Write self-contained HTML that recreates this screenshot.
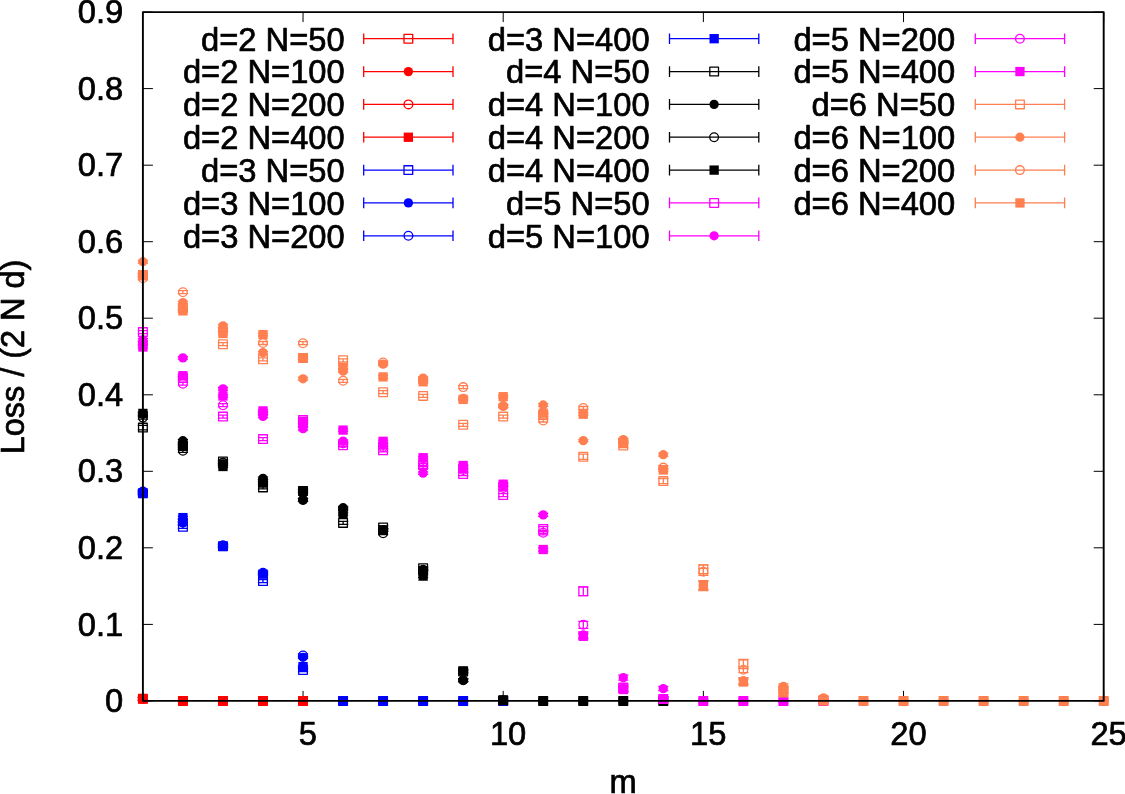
<!DOCTYPE html>
<html><head><meta charset="utf-8"><title>Loss / (2 N d) vs m</title>
<style>html,body{margin:0;padding:0;background:#fff}svg{display:block}text{stroke:#000;stroke-width:0.7px}</style></head>
<body>
<svg width="1125" height="794" viewBox="0 0 1125 794" font-family="'Liberation Sans', sans-serif" font-size="32.7px" fill="#000" stroke-linejoin="round">
<rect width="1125" height="794" fill="#fff"/>
<path d="M142.9 700.9h10M1103.692 700.9h-10M142.9 624.4h10M1103.692 624.4h-10M142.9 547.8h10M1103.692 547.8h-10M142.9 471.3h10M1103.692 471.3h-10M142.9 394.8h10M1103.692 394.8h-10M142.9 318.2h10M1103.692 318.2h-10M142.9 241.7h10M1103.692 241.7h-10M142.9 165.2h10M1103.692 165.2h-10M142.9 88.6h10M1103.692 88.6h-10M142.9 12.1h10M1103.692 12.1h-10M303.03200000000004 700.9v-10M303.03200000000004 12.1v10M503.197 700.9v-10M503.197 12.1v10M703.362 700.9v-10M703.362 12.1v10M903.527 700.9v-10M903.527 12.1v10M1103.692 700.9v-10M1103.692 12.1v10" stroke="#000" stroke-width="1" fill="none"/>
<text x="123.2" y="712.0" text-anchor="end">0</text>
<text x="123.2" y="635.5" text-anchor="end">0.1</text>
<text x="123.2" y="558.9" text-anchor="end">0.2</text>
<text x="123.2" y="482.4" text-anchor="end">0.3</text>
<text x="123.2" y="405.9" text-anchor="end">0.4</text>
<text x="123.2" y="329.3" text-anchor="end">0.5</text>
<text x="123.2" y="252.8" text-anchor="end">0.6</text>
<text x="123.2" y="176.3" text-anchor="end">0.7</text>
<text x="123.2" y="99.7" text-anchor="end">0.8</text>
<text x="123.2" y="23.2" text-anchor="end">0.9</text>
<text x="307.9" y="745.2" text-anchor="middle">5</text>
<text x="508.1" y="745.2" text-anchor="middle">10</text>
<text x="708.3" y="745.2" text-anchor="middle">15</text>
<text x="908.4" y="745.2" text-anchor="middle">20</text>
<text x="1108.6" y="745.2" text-anchor="middle">25</text>
<text transform="translate(23.6,357) rotate(-90)" text-anchor="middle" font-size="32.45px">Loss / (2 N d)</text>
<text x="623" y="793" text-anchor="middle">m</text>
<text x="344.7" y="50.5" text-anchor="end">d=2 N=50</text>
<path d="M363.7 38.7H453.0M363.7 33.4v10.6M453.0 33.4v10.6" stroke="#ff0000" stroke-width="1.3" fill="none"/>
<rect x="404.00" y="34.35" width="8.70" height="8.70" fill="none" stroke="#ff0000" stroke-width="1.3"/>
<text x="344.7" y="83.4" text-anchor="end">d=2 N=100</text>
<path d="M363.7 71.6H453.0M363.7 66.3v10.6M453.0 66.3v10.6" stroke="#ff0000" stroke-width="1.3" fill="none"/>
<circle cx="408.4" cy="71.6" r="4.65" fill="#ff0000"/>
<text x="344.7" y="116.2" text-anchor="end">d=2 N=200</text>
<path d="M363.7 104.4H453.0M363.7 99.1v10.6M453.0 99.1v10.6" stroke="#ff0000" stroke-width="1.3" fill="none"/>
<circle cx="408.4" cy="104.4" r="4.35" fill="none" stroke="#ff0000" stroke-width="1.3"/>
<text x="344.7" y="149.1" text-anchor="end">d=2 N=400</text>
<path d="M363.7 137.2H453.0M363.7 131.9v10.6M453.0 131.9v10.6" stroke="#ff0000" stroke-width="1.3" fill="none"/>
<rect x="403.70" y="132.60" width="9.30" height="9.30" fill="#ff0000"/>
<text x="344.7" y="181.9" text-anchor="end">d=3 N=50</text>
<path d="M363.7 170.1H453.0M363.7 164.8v10.6M453.0 164.8v10.6" stroke="#0000ff" stroke-width="1.3" fill="none"/>
<rect x="404.00" y="165.75" width="8.70" height="8.70" fill="none" stroke="#0000ff" stroke-width="1.3"/>
<text x="344.7" y="214.8" text-anchor="end">d=3 N=100</text>
<path d="M363.7 202.9H453.0M363.7 197.6v10.6M453.0 197.6v10.6" stroke="#0000ff" stroke-width="1.3" fill="none"/>
<circle cx="408.4" cy="202.9" r="4.65" fill="#0000ff"/>
<text x="344.7" y="247.6" text-anchor="end">d=3 N=200</text>
<path d="M363.7 235.8H453.0M363.7 230.5v10.6M453.0 230.5v10.6" stroke="#0000ff" stroke-width="1.3" fill="none"/>
<circle cx="408.4" cy="235.8" r="4.35" fill="none" stroke="#0000ff" stroke-width="1.3"/>
<text x="649.6" y="50.5" text-anchor="end">d=3 N=400</text>
<path d="M669.5 38.7H758.8M669.5 33.4v10.6M758.8 33.4v10.6" stroke="#0000ff" stroke-width="1.3" fill="none"/>
<rect x="709.50" y="34.05" width="9.30" height="9.30" fill="#0000ff"/>
<text x="649.6" y="83.4" text-anchor="end">d=4 N=50</text>
<path d="M669.5 71.6H758.8M669.5 66.3v10.6M758.8 66.3v10.6" stroke="#000000" stroke-width="1.3" fill="none"/>
<rect x="709.80" y="67.20" width="8.70" height="8.70" fill="none" stroke="#000000" stroke-width="1.3"/>
<text x="649.6" y="116.2" text-anchor="end">d=4 N=100</text>
<path d="M669.5 104.4H758.8M669.5 99.1v10.6M758.8 99.1v10.6" stroke="#000000" stroke-width="1.3" fill="none"/>
<circle cx="714.1" cy="104.4" r="4.65" fill="#000000"/>
<text x="649.6" y="149.1" text-anchor="end">d=4 N=200</text>
<path d="M669.5 137.2H758.8M669.5 131.9v10.6M758.8 131.9v10.6" stroke="#000000" stroke-width="1.3" fill="none"/>
<circle cx="714.1" cy="137.2" r="4.35" fill="none" stroke="#000000" stroke-width="1.3"/>
<text x="649.6" y="181.9" text-anchor="end">d=4 N=400</text>
<path d="M669.5 170.1H758.8M669.5 164.8v10.6M758.8 164.8v10.6" stroke="#000000" stroke-width="1.3" fill="none"/>
<rect x="709.50" y="165.45" width="9.30" height="9.30" fill="#000000"/>
<text x="649.6" y="214.8" text-anchor="end">d=5 N=50</text>
<path d="M669.5 202.9H758.8M669.5 197.6v10.6M758.8 197.6v10.6" stroke="#ff00ff" stroke-width="1.3" fill="none"/>
<rect x="709.80" y="198.60" width="8.70" height="8.70" fill="none" stroke="#ff00ff" stroke-width="1.3"/>
<text x="649.6" y="247.6" text-anchor="end">d=5 N=100</text>
<path d="M669.5 235.8H758.8M669.5 230.5v10.6M758.8 230.5v10.6" stroke="#ff00ff" stroke-width="1.3" fill="none"/>
<circle cx="714.1" cy="235.8" r="4.65" fill="#ff00ff"/>
<text x="955.2" y="50.5" text-anchor="end">d=5 N=200</text>
<path d="M975.3 38.7H1064.6M975.3 33.4v10.6M1064.6 33.4v10.6" stroke="#ff00ff" stroke-width="1.3" fill="none"/>
<circle cx="1019.9" cy="38.7" r="4.35" fill="none" stroke="#ff00ff" stroke-width="1.3"/>
<text x="955.2" y="83.4" text-anchor="end">d=5 N=400</text>
<path d="M975.3 71.6H1064.6M975.3 66.3v10.6M1064.6 66.3v10.6" stroke="#ff00ff" stroke-width="1.3" fill="none"/>
<rect x="1015.30" y="66.90" width="9.30" height="9.30" fill="#ff00ff"/>
<text x="955.2" y="116.2" text-anchor="end">d=6 N=50</text>
<path d="M975.3 104.4H1064.6M975.3 99.1v10.6M1064.6 99.1v10.6" stroke="#ff7f50" stroke-width="1.3" fill="none"/>
<rect x="1015.60" y="100.05" width="8.70" height="8.70" fill="none" stroke="#ff7f50" stroke-width="1.3"/>
<text x="955.2" y="149.1" text-anchor="end">d=6 N=100</text>
<path d="M975.3 137.2H1064.6M975.3 131.9v10.6M1064.6 131.9v10.6" stroke="#ff7f50" stroke-width="1.3" fill="none"/>
<circle cx="1019.9" cy="137.2" r="4.65" fill="#ff7f50"/>
<text x="955.2" y="181.9" text-anchor="end">d=6 N=200</text>
<path d="M975.3 170.1H1064.6M975.3 164.8v10.6M1064.6 164.8v10.6" stroke="#ff7f50" stroke-width="1.3" fill="none"/>
<circle cx="1019.9" cy="170.1" r="4.35" fill="none" stroke="#ff7f50" stroke-width="1.3"/>
<text x="955.2" y="214.8" text-anchor="end">d=6 N=400</text>
<path d="M975.3 202.9H1064.6M975.3 197.6v10.6M1064.6 197.6v10.6" stroke="#ff7f50" stroke-width="1.3" fill="none"/>
<rect x="1015.30" y="198.30" width="9.30" height="9.30" fill="#ff7f50"/>
<path d="M137.8 697.3H148.0M137.8 700.3H148.0M142.9 697.3V700.3" stroke="#ff0000" stroke-width="1.3" fill="none"/>
<rect x="138.55" y="694.45" width="8.70" height="8.70" fill="none" stroke="#ff0000" stroke-width="1.3"/>

<rect x="178.58" y="696.55" width="8.70" height="8.70" fill="none" stroke="#ff0000" stroke-width="1.3"/>

<rect x="218.62" y="696.55" width="8.70" height="8.70" fill="none" stroke="#ff0000" stroke-width="1.3"/>

<rect x="258.65" y="696.55" width="8.70" height="8.70" fill="none" stroke="#ff0000" stroke-width="1.3"/>

<rect x="298.68" y="696.55" width="8.70" height="8.70" fill="none" stroke="#ff0000" stroke-width="1.3"/>
<path d="M137.8 697.5H148.0M137.8 700.1H148.0M142.9 697.5V700.1" stroke="#ff0000" stroke-width="1.3" fill="none"/>
<circle cx="142.9" cy="698.8" r="4.65" fill="#ff0000"/>

<circle cx="182.9" cy="700.9" r="4.65" fill="#ff0000"/>

<circle cx="223.0" cy="700.9" r="4.65" fill="#ff0000"/>

<circle cx="263.0" cy="700.9" r="4.65" fill="#ff0000"/>

<circle cx="303.0" cy="700.9" r="4.65" fill="#ff0000"/>
<path d="M137.8 697.3H148.0M137.8 700.3H148.0M142.9 697.3V700.3" stroke="#ff0000" stroke-width="1.3" fill="none"/>
<circle cx="142.9" cy="698.8" r="4.35" fill="none" stroke="#ff0000" stroke-width="1.3"/>

<circle cx="182.9" cy="700.9" r="4.35" fill="none" stroke="#ff0000" stroke-width="1.3"/>

<circle cx="223.0" cy="700.9" r="4.35" fill="none" stroke="#ff0000" stroke-width="1.3"/>

<circle cx="263.0" cy="700.9" r="4.35" fill="none" stroke="#ff0000" stroke-width="1.3"/>

<circle cx="303.0" cy="700.9" r="4.35" fill="none" stroke="#ff0000" stroke-width="1.3"/>
<path d="M137.8 697.6H148.0M137.8 700.0H148.0M142.9 697.6V700.0" stroke="#ff0000" stroke-width="1.3" fill="none"/>
<rect x="138.25" y="694.15" width="9.30" height="9.30" fill="#ff0000"/>

<rect x="178.28" y="696.25" width="9.30" height="9.30" fill="#ff0000"/>

<rect x="218.32" y="696.25" width="9.30" height="9.30" fill="#ff0000"/>

<rect x="258.35" y="696.25" width="9.30" height="9.30" fill="#ff0000"/>

<rect x="298.38" y="696.25" width="9.30" height="9.30" fill="#ff0000"/>
<path d="M137.8 491.7H148.0M137.8 494.7H148.0M142.9 491.7V494.7" stroke="#0000ff" stroke-width="1.3" fill="none"/>
<rect x="138.55" y="488.85" width="8.70" height="8.70" fill="none" stroke="#0000ff" stroke-width="1.3"/>
<path d="M177.8 525.3H188.0M177.8 528.3H188.0M182.9 525.3V528.3" stroke="#0000ff" stroke-width="1.3" fill="none"/>
<rect x="178.58" y="522.45" width="8.70" height="8.70" fill="none" stroke="#0000ff" stroke-width="1.3"/>
<path d="M217.9 544.7H228.1M217.9 547.7H228.1M223.0 544.7V547.7" stroke="#0000ff" stroke-width="1.3" fill="none"/>
<rect x="218.62" y="541.85" width="8.70" height="8.70" fill="none" stroke="#0000ff" stroke-width="1.3"/>
<path d="M257.9 579.6H268.1M257.9 582.6H268.1M263.0 579.6V582.6" stroke="#0000ff" stroke-width="1.3" fill="none"/>
<rect x="258.65" y="576.75" width="8.70" height="8.70" fill="none" stroke="#0000ff" stroke-width="1.3"/>
<path d="M297.9 668.5H308.1M297.9 671.5H308.1M303.0 668.5V671.5" stroke="#0000ff" stroke-width="1.3" fill="none"/>
<rect x="298.68" y="665.65" width="8.70" height="8.70" fill="none" stroke="#0000ff" stroke-width="1.3"/>

<rect x="338.72" y="696.55" width="8.70" height="8.70" fill="none" stroke="#0000ff" stroke-width="1.3"/>

<rect x="378.75" y="696.55" width="8.70" height="8.70" fill="none" stroke="#0000ff" stroke-width="1.3"/>

<rect x="418.78" y="696.55" width="8.70" height="8.70" fill="none" stroke="#0000ff" stroke-width="1.3"/>

<rect x="458.81" y="696.55" width="8.70" height="8.70" fill="none" stroke="#0000ff" stroke-width="1.3"/>

<rect x="498.85" y="696.55" width="8.70" height="8.70" fill="none" stroke="#0000ff" stroke-width="1.3"/>
<path d="M137.8 490.3H148.0M137.8 492.9H148.0M142.9 490.3V492.9" stroke="#0000ff" stroke-width="1.3" fill="none"/>
<circle cx="142.9" cy="491.6" r="4.65" fill="#0000ff"/>
<path d="M177.8 521.7H188.0M177.8 524.3H188.0M182.9 521.7V524.3" stroke="#0000ff" stroke-width="1.3" fill="none"/>
<circle cx="182.9" cy="523.0" r="4.65" fill="#0000ff"/>
<path d="M217.9 543.9H228.1M217.9 546.5H228.1M223.0 543.9V546.5" stroke="#0000ff" stroke-width="1.3" fill="none"/>
<circle cx="223.0" cy="545.2" r="4.65" fill="#0000ff"/>
<path d="M257.9 572.2H268.1M257.9 574.8H268.1M263.0 572.2V574.8" stroke="#0000ff" stroke-width="1.3" fill="none"/>
<circle cx="263.0" cy="573.5" r="4.65" fill="#0000ff"/>
<path d="M297.9 656.0H308.1M297.9 658.6H308.1M303.0 656.0V658.6" stroke="#0000ff" stroke-width="1.3" fill="none"/>
<circle cx="303.0" cy="657.3" r="4.65" fill="#0000ff"/>

<circle cx="343.1" cy="700.9" r="4.65" fill="#0000ff"/>

<circle cx="383.1" cy="700.9" r="4.65" fill="#0000ff"/>

<circle cx="423.1" cy="700.9" r="4.65" fill="#0000ff"/>

<circle cx="463.2" cy="700.9" r="4.65" fill="#0000ff"/>

<circle cx="503.2" cy="700.9" r="4.65" fill="#0000ff"/>
<path d="M137.8 490.1H148.0M137.8 493.1H148.0M142.9 490.1V493.1" stroke="#0000ff" stroke-width="1.3" fill="none"/>
<circle cx="142.9" cy="491.6" r="4.35" fill="none" stroke="#0000ff" stroke-width="1.3"/>
<path d="M177.8 519.0H188.0M177.8 522.0H188.0M182.9 519.0V522.0" stroke="#0000ff" stroke-width="1.3" fill="none"/>
<circle cx="182.9" cy="520.5" r="4.35" fill="none" stroke="#0000ff" stroke-width="1.3"/>
<path d="M217.9 543.9H228.1M217.9 546.9H228.1M223.0 543.9V546.9" stroke="#0000ff" stroke-width="1.3" fill="none"/>
<circle cx="223.0" cy="545.4" r="4.35" fill="none" stroke="#0000ff" stroke-width="1.3"/>
<path d="M257.9 571.2H268.1M257.9 574.2H268.1M263.0 571.2V574.2" stroke="#0000ff" stroke-width="1.3" fill="none"/>
<circle cx="263.0" cy="572.7" r="4.35" fill="none" stroke="#0000ff" stroke-width="1.3"/>
<path d="M297.9 654.0H308.1M297.9 657.0H308.1M303.0 654.0V657.0" stroke="#0000ff" stroke-width="1.3" fill="none"/>
<circle cx="303.0" cy="655.5" r="4.35" fill="none" stroke="#0000ff" stroke-width="1.3"/>

<circle cx="343.1" cy="700.9" r="4.35" fill="none" stroke="#0000ff" stroke-width="1.3"/>

<circle cx="383.1" cy="700.9" r="4.35" fill="none" stroke="#0000ff" stroke-width="1.3"/>

<circle cx="423.1" cy="700.9" r="4.35" fill="none" stroke="#0000ff" stroke-width="1.3"/>

<circle cx="463.2" cy="700.9" r="4.35" fill="none" stroke="#0000ff" stroke-width="1.3"/>

<circle cx="503.2" cy="700.9" r="4.35" fill="none" stroke="#0000ff" stroke-width="1.3"/>
<path d="M137.8 492.2H148.0M137.8 494.6H148.0M142.9 492.2V494.6" stroke="#0000ff" stroke-width="1.3" fill="none"/>
<rect x="138.25" y="488.75" width="9.30" height="9.30" fill="#0000ff"/>
<path d="M177.8 516.4H188.0M177.8 518.8H188.0M182.9 516.4V518.8" stroke="#0000ff" stroke-width="1.3" fill="none"/>
<rect x="178.28" y="512.95" width="9.30" height="9.30" fill="#0000ff"/>
<path d="M217.9 545.2H228.1M217.9 547.6H228.1M223.0 545.2V547.6" stroke="#0000ff" stroke-width="1.3" fill="none"/>
<rect x="218.32" y="541.75" width="9.30" height="9.30" fill="#0000ff"/>
<path d="M257.9 573.0H268.1M257.9 575.4H268.1M263.0 573.0V575.4" stroke="#0000ff" stroke-width="1.3" fill="none"/>
<rect x="258.35" y="569.55" width="9.30" height="9.30" fill="#0000ff"/>
<path d="M297.9 665.4H308.1M297.9 667.8H308.1M303.0 665.4V667.8" stroke="#0000ff" stroke-width="1.3" fill="none"/>
<rect x="298.38" y="661.95" width="9.30" height="9.30" fill="#0000ff"/>

<rect x="338.42" y="696.25" width="9.30" height="9.30" fill="#0000ff"/>

<rect x="378.45" y="696.25" width="9.30" height="9.30" fill="#0000ff"/>

<rect x="418.48" y="696.25" width="9.30" height="9.30" fill="#0000ff"/>

<rect x="458.51" y="696.25" width="9.30" height="9.30" fill="#0000ff"/>

<rect x="498.55" y="696.25" width="9.30" height="9.30" fill="#0000ff"/>
<path d="M137.8 425.3H148.0M137.8 429.9H148.0M142.9 425.3V429.9" stroke="#000000" stroke-width="1.3" fill="none"/>
<rect x="138.55" y="423.25" width="8.70" height="8.70" fill="none" stroke="#000000" stroke-width="1.3"/>
<path d="M177.8 444.5H188.0M177.8 447.5H188.0M182.9 444.5V447.5" stroke="#000000" stroke-width="1.3" fill="none"/>
<rect x="178.58" y="441.65" width="8.70" height="8.70" fill="none" stroke="#000000" stroke-width="1.3"/>
<path d="M217.9 460.0H228.1M217.9 463.0H228.1M223.0 460.0V463.0" stroke="#000000" stroke-width="1.3" fill="none"/>
<rect x="218.62" y="457.15" width="8.70" height="8.70" fill="none" stroke="#000000" stroke-width="1.3"/>
<path d="M257.9 485.9H268.1M257.9 488.9H268.1M263.0 485.9V488.9" stroke="#000000" stroke-width="1.3" fill="none"/>
<rect x="258.65" y="483.05" width="8.70" height="8.70" fill="none" stroke="#000000" stroke-width="1.3"/>
<path d="M297.9 489.5H308.1M297.9 492.5H308.1M303.0 489.5V492.5" stroke="#000000" stroke-width="1.3" fill="none"/>
<rect x="298.68" y="486.65" width="8.70" height="8.70" fill="none" stroke="#000000" stroke-width="1.3"/>
<path d="M338.0 521.4H348.2M338.0 524.4H348.2M343.1 521.4V524.4" stroke="#000000" stroke-width="1.3" fill="none"/>
<rect x="338.72" y="518.55" width="8.70" height="8.70" fill="none" stroke="#000000" stroke-width="1.3"/>
<path d="M378.0 526.0H388.2M378.0 529.0H388.2M383.1 526.0V529.0" stroke="#000000" stroke-width="1.3" fill="none"/>
<rect x="378.75" y="523.15" width="8.70" height="8.70" fill="none" stroke="#000000" stroke-width="1.3"/>
<path d="M418.0 566.7H428.2M418.0 569.7H428.2M423.1 566.7V569.7" stroke="#000000" stroke-width="1.3" fill="none"/>
<rect x="418.78" y="563.85" width="8.70" height="8.70" fill="none" stroke="#000000" stroke-width="1.3"/>
<path d="M458.1 670.0H468.3M458.1 673.0H468.3M463.2 670.0V673.0" stroke="#000000" stroke-width="1.3" fill="none"/>
<rect x="458.81" y="667.15" width="8.70" height="8.70" fill="none" stroke="#000000" stroke-width="1.3"/>

<rect x="498.85" y="695.95" width="8.70" height="8.70" fill="none" stroke="#000000" stroke-width="1.3"/>

<rect x="538.88" y="696.55" width="8.70" height="8.70" fill="none" stroke="#000000" stroke-width="1.3"/>

<rect x="578.91" y="696.55" width="8.70" height="8.70" fill="none" stroke="#000000" stroke-width="1.3"/>

<rect x="618.95" y="696.55" width="8.70" height="8.70" fill="none" stroke="#000000" stroke-width="1.3"/>

<rect x="658.98" y="696.55" width="8.70" height="8.70" fill="none" stroke="#000000" stroke-width="1.3"/>
<path d="M137.8 412.8H148.0M137.8 415.8H148.0M142.9 412.8V415.8" stroke="#000000" stroke-width="1.3" fill="none"/>
<circle cx="142.9" cy="414.3" r="4.65" fill="#000000"/>
<path d="M177.8 439.4H188.0M177.8 442.0H188.0M182.9 439.4V442.0" stroke="#000000" stroke-width="1.3" fill="none"/>
<circle cx="182.9" cy="440.7" r="4.65" fill="#000000"/>
<path d="M217.9 463.2H228.1M217.9 465.8H228.1M223.0 463.2V465.8" stroke="#000000" stroke-width="1.3" fill="none"/>
<circle cx="223.0" cy="464.5" r="4.65" fill="#000000"/>
<path d="M257.9 477.1H268.1M257.9 479.7H268.1M263.0 477.1V479.7" stroke="#000000" stroke-width="1.3" fill="none"/>
<circle cx="263.0" cy="478.4" r="4.65" fill="#000000"/>
<path d="M297.9 498.6H308.1M297.9 501.2H308.1M303.0 498.6V501.2" stroke="#000000" stroke-width="1.3" fill="none"/>
<circle cx="303.0" cy="499.9" r="4.65" fill="#000000"/>
<path d="M338.0 506.4H348.2M338.0 509.0H348.2M343.1 506.4V509.0" stroke="#000000" stroke-width="1.3" fill="none"/>
<circle cx="343.1" cy="507.7" r="4.65" fill="#000000"/>
<path d="M378.0 528.7H388.2M378.0 531.3H388.2M383.1 528.7V531.3" stroke="#000000" stroke-width="1.3" fill="none"/>
<circle cx="383.1" cy="530.0" r="4.65" fill="#000000"/>
<path d="M418.0 568.0H428.2M418.0 570.6H428.2M423.1 568.0V570.6" stroke="#000000" stroke-width="1.3" fill="none"/>
<circle cx="423.1" cy="569.3" r="4.65" fill="#000000"/>
<path d="M458.1 679.0H468.3M458.1 681.6H468.3M463.2 679.0V681.6" stroke="#000000" stroke-width="1.3" fill="none"/>
<circle cx="463.2" cy="680.3" r="4.65" fill="#000000"/>

<circle cx="503.2" cy="700.3" r="4.65" fill="#000000"/>

<circle cx="543.2" cy="700.9" r="4.65" fill="#000000"/>

<circle cx="583.3" cy="700.9" r="4.65" fill="#000000"/>

<circle cx="623.3" cy="700.9" r="4.65" fill="#000000"/>

<circle cx="663.3" cy="700.9" r="4.65" fill="#000000"/>
<path d="M137.8 416.1H148.0M137.8 419.1H148.0M142.9 416.1V419.1" stroke="#000000" stroke-width="1.3" fill="none"/>
<circle cx="142.9" cy="417.6" r="4.35" fill="none" stroke="#000000" stroke-width="1.3"/>
<path d="M177.8 449.3H188.0M177.8 452.3H188.0M182.9 449.3V452.3" stroke="#000000" stroke-width="1.3" fill="none"/>
<circle cx="182.9" cy="450.8" r="4.35" fill="none" stroke="#000000" stroke-width="1.3"/>
<path d="M217.9 461.1H228.1M217.9 464.1H228.1M223.0 461.1V464.1" stroke="#000000" stroke-width="1.3" fill="none"/>
<circle cx="223.0" cy="462.6" r="4.35" fill="none" stroke="#000000" stroke-width="1.3"/>
<path d="M257.9 479.5H268.1M257.9 482.5H268.1M263.0 479.5V482.5" stroke="#000000" stroke-width="1.3" fill="none"/>
<circle cx="263.0" cy="481.0" r="4.35" fill="none" stroke="#000000" stroke-width="1.3"/>
<path d="M297.9 498.4H308.1M297.9 501.4H308.1M303.0 498.4V501.4" stroke="#000000" stroke-width="1.3" fill="none"/>
<circle cx="303.0" cy="499.9" r="4.35" fill="none" stroke="#000000" stroke-width="1.3"/>
<path d="M338.0 507.5H348.2M338.0 510.5H348.2M343.1 507.5V510.5" stroke="#000000" stroke-width="1.3" fill="none"/>
<circle cx="343.1" cy="509.0" r="4.35" fill="none" stroke="#000000" stroke-width="1.3"/>
<path d="M378.0 531.7H388.2M378.0 534.7H388.2M383.1 531.7V534.7" stroke="#000000" stroke-width="1.3" fill="none"/>
<circle cx="383.1" cy="533.2" r="4.35" fill="none" stroke="#000000" stroke-width="1.3"/>
<path d="M418.0 570.5H428.2M418.0 573.5H428.2M423.1 570.5V573.5" stroke="#000000" stroke-width="1.3" fill="none"/>
<circle cx="423.1" cy="572.0" r="4.35" fill="none" stroke="#000000" stroke-width="1.3"/>
<path d="M458.1 678.7H468.3M458.1 681.7H468.3M463.2 678.7V681.7" stroke="#000000" stroke-width="1.3" fill="none"/>
<circle cx="463.2" cy="680.2" r="4.35" fill="none" stroke="#000000" stroke-width="1.3"/>

<circle cx="503.2" cy="700.3" r="4.35" fill="none" stroke="#000000" stroke-width="1.3"/>

<circle cx="543.2" cy="700.9" r="4.35" fill="none" stroke="#000000" stroke-width="1.3"/>

<circle cx="583.3" cy="700.9" r="4.35" fill="none" stroke="#000000" stroke-width="1.3"/>

<circle cx="623.3" cy="700.9" r="4.35" fill="none" stroke="#000000" stroke-width="1.3"/>

<circle cx="663.3" cy="700.9" r="4.35" fill="none" stroke="#000000" stroke-width="1.3"/>
<path d="M137.8 412.2H148.0M137.8 414.6H148.0M142.9 412.2V414.6" stroke="#000000" stroke-width="1.3" fill="none"/>
<rect x="138.25" y="408.75" width="9.30" height="9.30" fill="#000000"/>
<path d="M177.8 443.8H188.0M177.8 446.2H188.0M182.9 443.8V446.2" stroke="#000000" stroke-width="1.3" fill="none"/>
<rect x="178.28" y="440.35" width="9.30" height="9.30" fill="#000000"/>
<path d="M217.9 465.3H228.1M217.9 467.7H228.1M223.0 465.3V467.7" stroke="#000000" stroke-width="1.3" fill="none"/>
<rect x="218.32" y="461.85" width="9.30" height="9.30" fill="#000000"/>
<path d="M257.9 481.9H268.1M257.9 484.3H268.1M263.0 481.9V484.3" stroke="#000000" stroke-width="1.3" fill="none"/>
<rect x="258.35" y="478.45" width="9.30" height="9.30" fill="#000000"/>
<path d="M297.9 489.7H308.1M297.9 492.1H308.1M303.0 489.7V492.1" stroke="#000000" stroke-width="1.3" fill="none"/>
<rect x="298.38" y="486.25" width="9.30" height="9.30" fill="#000000"/>
<path d="M338.0 512.8H348.2M338.0 515.2H348.2M343.1 512.8V515.2" stroke="#000000" stroke-width="1.3" fill="none"/>
<rect x="338.42" y="509.35" width="9.30" height="9.30" fill="#000000"/>
<path d="M378.0 528.8H388.2M378.0 531.2H388.2M383.1 528.8V531.2" stroke="#000000" stroke-width="1.3" fill="none"/>
<rect x="378.45" y="525.35" width="9.30" height="9.30" fill="#000000"/>
<path d="M418.0 574.9H428.2M418.0 577.3H428.2M423.1 574.9V577.3" stroke="#000000" stroke-width="1.3" fill="none"/>
<rect x="418.48" y="571.45" width="9.30" height="9.30" fill="#000000"/>
<path d="M458.1 669.8H468.3M458.1 672.2H468.3M463.2 669.8V672.2" stroke="#000000" stroke-width="1.3" fill="none"/>
<rect x="458.51" y="666.35" width="9.30" height="9.30" fill="#000000"/>

<rect x="498.55" y="695.65" width="9.30" height="9.30" fill="#000000"/>

<rect x="538.58" y="696.25" width="9.30" height="9.30" fill="#000000"/>

<rect x="578.61" y="696.25" width="9.30" height="9.30" fill="#000000"/>

<rect x="618.65" y="696.25" width="9.30" height="9.30" fill="#000000"/>

<rect x="658.68" y="696.25" width="9.30" height="9.30" fill="#000000"/>
<path d="M137.8 330.6H148.0M137.8 333.6H148.0M142.9 330.6V333.6" stroke="#ff00ff" stroke-width="1.3" fill="none"/>
<rect x="138.55" y="327.75" width="8.70" height="8.70" fill="none" stroke="#ff00ff" stroke-width="1.3"/>
<path d="M177.8 376.5H188.0M177.8 379.5H188.0M182.9 376.5V379.5" stroke="#ff00ff" stroke-width="1.3" fill="none"/>
<rect x="178.58" y="373.65" width="8.70" height="8.70" fill="none" stroke="#ff00ff" stroke-width="1.3"/>
<path d="M217.9 415.1H228.1M217.9 418.1H228.1M223.0 415.1V418.1" stroke="#ff00ff" stroke-width="1.3" fill="none"/>
<rect x="218.62" y="412.25" width="8.70" height="8.70" fill="none" stroke="#ff00ff" stroke-width="1.3"/>
<path d="M257.9 437.6H268.1M257.9 440.6H268.1M263.0 437.6V440.6" stroke="#ff00ff" stroke-width="1.3" fill="none"/>
<rect x="258.65" y="434.75" width="8.70" height="8.70" fill="none" stroke="#ff00ff" stroke-width="1.3"/>
<path d="M297.9 418.6H308.1M297.9 421.6H308.1M303.0 418.6V421.6" stroke="#ff00ff" stroke-width="1.3" fill="none"/>
<rect x="298.68" y="415.75" width="8.70" height="8.70" fill="none" stroke="#ff00ff" stroke-width="1.3"/>
<path d="M338.0 443.7H348.2M338.0 446.7H348.2M343.1 443.7V446.7" stroke="#ff00ff" stroke-width="1.3" fill="none"/>
<rect x="338.72" y="440.85" width="8.70" height="8.70" fill="none" stroke="#ff00ff" stroke-width="1.3"/>
<path d="M378.0 448.8H388.2M378.0 451.8H388.2M383.1 448.8V451.8" stroke="#ff00ff" stroke-width="1.3" fill="none"/>
<rect x="378.75" y="445.95" width="8.70" height="8.70" fill="none" stroke="#ff00ff" stroke-width="1.3"/>
<path d="M418.0 463.5H428.2M418.0 466.5H428.2M423.1 463.5V466.5" stroke="#ff00ff" stroke-width="1.3" fill="none"/>
<rect x="418.78" y="460.65" width="8.70" height="8.70" fill="none" stroke="#ff00ff" stroke-width="1.3"/>
<path d="M458.1 472.6H468.3M458.1 475.6H468.3M463.2 472.6V475.6" stroke="#ff00ff" stroke-width="1.3" fill="none"/>
<rect x="458.81" y="469.75" width="8.70" height="8.70" fill="none" stroke="#ff00ff" stroke-width="1.3"/>
<path d="M498.1 493.6H508.3M498.1 496.6H508.3M503.2 493.6V496.6" stroke="#ff00ff" stroke-width="1.3" fill="none"/>
<rect x="498.85" y="490.75" width="8.70" height="8.70" fill="none" stroke="#ff00ff" stroke-width="1.3"/>
<path d="M538.1 526.5H548.3M538.1 531.5H548.3M543.2 526.5V531.5" stroke="#ff00ff" stroke-width="1.3" fill="none"/>
<rect x="538.88" y="524.65" width="8.70" height="8.70" fill="none" stroke="#ff00ff" stroke-width="1.3"/>
<path d="M578.2 586.8H588.4M578.2 595.6H588.4M583.3 586.8V595.6" stroke="#ff00ff" stroke-width="1.3" fill="none"/>
<rect x="578.91" y="586.85" width="8.70" height="8.70" fill="none" stroke="#ff00ff" stroke-width="1.3"/>
<path d="M618.2 684.1H628.4M618.2 691.1H628.4M623.3 684.1V691.1" stroke="#ff00ff" stroke-width="1.3" fill="none"/>
<rect x="618.95" y="683.25" width="8.70" height="8.70" fill="none" stroke="#ff00ff" stroke-width="1.3"/>
<path d="M658.2 697.0H668.4M658.2 701.0H668.4M663.3 697.0V701.0" stroke="#ff00ff" stroke-width="1.3" fill="none"/>
<rect x="658.98" y="694.65" width="8.70" height="8.70" fill="none" stroke="#ff00ff" stroke-width="1.3"/>

<rect x="699.01" y="696.55" width="8.70" height="8.70" fill="none" stroke="#ff00ff" stroke-width="1.3"/>

<rect x="739.04" y="696.55" width="8.70" height="8.70" fill="none" stroke="#ff00ff" stroke-width="1.3"/>

<rect x="779.08" y="696.55" width="8.70" height="8.70" fill="none" stroke="#ff00ff" stroke-width="1.3"/>

<rect x="819.11" y="696.55" width="8.70" height="8.70" fill="none" stroke="#ff00ff" stroke-width="1.3"/>
<path d="M137.8 338.6H148.0M137.8 341.2H148.0M142.9 338.6V341.2" stroke="#ff00ff" stroke-width="1.3" fill="none"/>
<circle cx="142.9" cy="339.9" r="4.65" fill="#ff00ff"/>
<path d="M177.8 356.6H188.0M177.8 359.2H188.0M182.9 356.6V359.2" stroke="#ff00ff" stroke-width="1.3" fill="none"/>
<circle cx="182.9" cy="357.9" r="4.65" fill="#ff00ff"/>
<path d="M217.9 387.5H228.1M217.9 390.1H228.1M223.0 387.5V390.1" stroke="#ff00ff" stroke-width="1.3" fill="none"/>
<circle cx="223.0" cy="388.8" r="4.65" fill="#ff00ff"/>
<path d="M257.9 415.1H268.1M257.9 417.7H268.1M263.0 415.1V417.7" stroke="#ff00ff" stroke-width="1.3" fill="none"/>
<circle cx="263.0" cy="416.4" r="4.65" fill="#ff00ff"/>
<path d="M297.9 427.4H308.1M297.9 430.0H308.1M303.0 427.4V430.0" stroke="#ff00ff" stroke-width="1.3" fill="none"/>
<circle cx="303.0" cy="428.7" r="4.65" fill="#ff00ff"/>
<path d="M338.0 439.8H348.2M338.0 442.4H348.2M343.1 439.8V442.4" stroke="#ff00ff" stroke-width="1.3" fill="none"/>
<circle cx="343.1" cy="441.1" r="4.65" fill="#ff00ff"/>
<path d="M378.0 443.7H388.2M378.0 446.3H388.2M383.1 443.7V446.3" stroke="#ff00ff" stroke-width="1.3" fill="none"/>
<circle cx="383.1" cy="445.0" r="4.65" fill="#ff00ff"/>
<path d="M418.0 471.8H428.2M418.0 474.4H428.2M423.1 471.8V474.4" stroke="#ff00ff" stroke-width="1.3" fill="none"/>
<circle cx="423.1" cy="473.1" r="4.65" fill="#ff00ff"/>
<path d="M458.1 465.7H468.3M458.1 468.3H468.3M463.2 465.7V468.3" stroke="#ff00ff" stroke-width="1.3" fill="none"/>
<circle cx="463.2" cy="467.0" r="4.65" fill="#ff00ff"/>
<path d="M498.1 483.2H508.3M498.1 485.8H508.3M503.2 483.2V485.8" stroke="#ff00ff" stroke-width="1.3" fill="none"/>
<circle cx="503.2" cy="484.5" r="4.65" fill="#ff00ff"/>
<path d="M538.1 513.4H548.3M538.1 516.4H548.3M543.2 513.4V516.4" stroke="#ff00ff" stroke-width="1.3" fill="none"/>
<circle cx="543.2" cy="514.9" r="4.65" fill="#ff00ff"/>
<path d="M578.2 632.0H588.4M578.2 638.0H588.4M583.3 632.0V638.0" stroke="#ff00ff" stroke-width="1.3" fill="none"/>
<circle cx="583.3" cy="635.0" r="4.65" fill="#ff00ff"/>
<path d="M618.2 675.1H628.4M618.2 680.1H628.4M623.3 675.1V680.1" stroke="#ff00ff" stroke-width="1.3" fill="none"/>
<circle cx="623.3" cy="677.6" r="4.65" fill="#ff00ff"/>
<path d="M658.2 686.6H668.4M658.2 690.6H668.4M663.3 686.6V690.6" stroke="#ff00ff" stroke-width="1.3" fill="none"/>
<circle cx="663.3" cy="688.6" r="4.65" fill="#ff00ff"/>

<circle cx="703.4" cy="700.9" r="4.65" fill="#ff00ff"/>

<circle cx="743.4" cy="700.9" r="4.65" fill="#ff00ff"/>

<circle cx="783.4" cy="700.9" r="4.65" fill="#ff00ff"/>

<circle cx="823.5" cy="700.9" r="4.65" fill="#ff00ff"/>
<path d="M137.8 341.5H148.0M137.8 344.5H148.0M142.9 341.5V344.5" stroke="#ff00ff" stroke-width="1.3" fill="none"/>
<circle cx="142.9" cy="343.0" r="4.35" fill="none" stroke="#ff00ff" stroke-width="1.3"/>
<path d="M177.8 382.2H188.0M177.8 385.2H188.0M182.9 382.2V385.2" stroke="#ff00ff" stroke-width="1.3" fill="none"/>
<circle cx="182.9" cy="383.7" r="4.35" fill="none" stroke="#ff00ff" stroke-width="1.3"/>
<path d="M217.9 403.7H228.1M217.9 406.7H228.1M223.0 403.7V406.7" stroke="#ff00ff" stroke-width="1.3" fill="none"/>
<circle cx="223.0" cy="405.2" r="4.35" fill="none" stroke="#ff00ff" stroke-width="1.3"/>
<path d="M257.9 411.5H268.1M257.9 414.5H268.1M263.0 411.5V414.5" stroke="#ff00ff" stroke-width="1.3" fill="none"/>
<circle cx="263.0" cy="413.0" r="4.35" fill="none" stroke="#ff00ff" stroke-width="1.3"/>
<path d="M297.9 423.5H308.1M297.9 426.5H308.1M303.0 423.5V426.5" stroke="#ff00ff" stroke-width="1.3" fill="none"/>
<circle cx="303.0" cy="425.0" r="4.35" fill="none" stroke="#ff00ff" stroke-width="1.3"/>
<path d="M338.0 441.9H348.2M338.0 444.9H348.2M343.1 441.9V444.9" stroke="#ff00ff" stroke-width="1.3" fill="none"/>
<circle cx="343.1" cy="443.4" r="4.35" fill="none" stroke="#ff00ff" stroke-width="1.3"/>
<path d="M378.0 445.5H388.2M378.0 448.5H388.2M383.1 445.5V448.5" stroke="#ff00ff" stroke-width="1.3" fill="none"/>
<circle cx="383.1" cy="447.0" r="4.35" fill="none" stroke="#ff00ff" stroke-width="1.3"/>
<path d="M418.0 465.4H428.2M418.0 468.4H428.2M423.1 465.4V468.4" stroke="#ff00ff" stroke-width="1.3" fill="none"/>
<circle cx="423.1" cy="466.9" r="4.35" fill="none" stroke="#ff00ff" stroke-width="1.3"/>
<path d="M458.1 468.5H468.3M458.1 471.5H468.3M463.2 468.5V471.5" stroke="#ff00ff" stroke-width="1.3" fill="none"/>
<circle cx="463.2" cy="470.0" r="4.35" fill="none" stroke="#ff00ff" stroke-width="1.3"/>
<path d="M498.1 486.5H508.3M498.1 489.5H508.3M503.2 486.5V489.5" stroke="#ff00ff" stroke-width="1.3" fill="none"/>
<circle cx="503.2" cy="488.0" r="4.35" fill="none" stroke="#ff00ff" stroke-width="1.3"/>
<path d="M538.1 530.5H548.3M538.1 534.9H548.3M543.2 530.5V534.9" stroke="#ff00ff" stroke-width="1.3" fill="none"/>
<circle cx="543.2" cy="532.7" r="4.35" fill="none" stroke="#ff00ff" stroke-width="1.3"/>
<path d="M578.2 621.3H588.4M578.2 628.3H588.4M583.3 621.3V628.3" stroke="#ff00ff" stroke-width="1.3" fill="none"/>
<circle cx="583.3" cy="624.8" r="4.35" fill="none" stroke="#ff00ff" stroke-width="1.3"/>
<path d="M618.2 686.0H628.4M618.2 692.0H628.4M623.3 686.0V692.0" stroke="#ff00ff" stroke-width="1.3" fill="none"/>
<circle cx="623.3" cy="689.0" r="4.35" fill="none" stroke="#ff00ff" stroke-width="1.3"/>
<path d="M658.2 697.0H668.4M658.2 701.0H668.4M663.3 697.0V701.0" stroke="#ff00ff" stroke-width="1.3" fill="none"/>
<circle cx="663.3" cy="699.0" r="4.35" fill="none" stroke="#ff00ff" stroke-width="1.3"/>

<circle cx="703.4" cy="700.9" r="4.35" fill="none" stroke="#ff00ff" stroke-width="1.3"/>

<circle cx="743.4" cy="700.9" r="4.35" fill="none" stroke="#ff00ff" stroke-width="1.3"/>

<circle cx="783.4" cy="700.9" r="4.35" fill="none" stroke="#ff00ff" stroke-width="1.3"/>

<circle cx="823.5" cy="700.9" r="4.35" fill="none" stroke="#ff00ff" stroke-width="1.3"/>
<path d="M137.8 345.8H148.0M137.8 348.2H148.0M142.9 345.8V348.2" stroke="#ff00ff" stroke-width="1.3" fill="none"/>
<rect x="138.25" y="342.35" width="9.30" height="9.30" fill="#ff00ff"/>
<path d="M177.8 374.5H188.0M177.8 376.9H188.0M182.9 374.5V376.9" stroke="#ff00ff" stroke-width="1.3" fill="none"/>
<rect x="178.28" y="371.05" width="9.30" height="9.30" fill="#ff00ff"/>
<path d="M217.9 394.8H228.1M217.9 397.2H228.1M223.0 394.8V397.2" stroke="#ff00ff" stroke-width="1.3" fill="none"/>
<rect x="218.32" y="391.35" width="9.30" height="9.30" fill="#ff00ff"/>
<path d="M257.9 409.7H268.1M257.9 412.1H268.1M263.0 409.7V412.1" stroke="#ff00ff" stroke-width="1.3" fill="none"/>
<rect x="258.35" y="406.25" width="9.30" height="9.30" fill="#ff00ff"/>
<path d="M297.9 420.3H308.1M297.9 422.7H308.1M303.0 420.3V422.7" stroke="#ff00ff" stroke-width="1.3" fill="none"/>
<rect x="298.38" y="416.85" width="9.30" height="9.30" fill="#ff00ff"/>
<path d="M338.0 428.9H348.2M338.0 431.3H348.2M343.1 428.9V431.3" stroke="#ff00ff" stroke-width="1.3" fill="none"/>
<rect x="338.42" y="425.45" width="9.30" height="9.30" fill="#ff00ff"/>
<path d="M378.0 440.1H388.2M378.0 442.5H388.2M383.1 440.1V442.5" stroke="#ff00ff" stroke-width="1.3" fill="none"/>
<rect x="378.45" y="436.65" width="9.30" height="9.30" fill="#ff00ff"/>
<path d="M418.0 456.5H428.2M418.0 458.9H428.2M423.1 456.5V458.9" stroke="#ff00ff" stroke-width="1.3" fill="none"/>
<rect x="418.48" y="453.05" width="9.30" height="9.30" fill="#ff00ff"/>
<path d="M458.1 464.3H468.3M458.1 466.7H468.3M463.2 464.3V466.7" stroke="#ff00ff" stroke-width="1.3" fill="none"/>
<rect x="458.51" y="460.85" width="9.30" height="9.30" fill="#ff00ff"/>
<path d="M498.1 483.0H508.3M498.1 485.4H508.3M503.2 483.0V485.4" stroke="#ff00ff" stroke-width="1.3" fill="none"/>
<rect x="498.55" y="479.55" width="9.30" height="9.30" fill="#ff00ff"/>
<path d="M538.1 548.0H548.3M538.1 551.0H548.3M543.2 548.0V551.0" stroke="#ff00ff" stroke-width="1.3" fill="none"/>
<rect x="538.58" y="544.85" width="9.30" height="9.30" fill="#ff00ff"/>
<path d="M578.2 633.7H588.4M578.2 638.9H588.4M583.3 633.7V638.9" stroke="#ff00ff" stroke-width="1.3" fill="none"/>
<rect x="578.61" y="631.65" width="9.30" height="9.30" fill="#ff00ff"/>
<path d="M618.2 687.0H628.4M618.2 692.0H628.4M623.3 687.0V692.0" stroke="#ff00ff" stroke-width="1.3" fill="none"/>
<rect x="618.65" y="684.85" width="9.30" height="9.30" fill="#ff00ff"/>
<path d="M658.2 697.2H668.4M658.2 700.2H668.4M663.3 697.2V700.2" stroke="#ff00ff" stroke-width="1.3" fill="none"/>
<rect x="658.68" y="694.05" width="9.30" height="9.30" fill="#ff00ff"/>

<rect x="698.71" y="696.25" width="9.30" height="9.30" fill="#ff00ff"/>

<rect x="738.75" y="696.25" width="9.30" height="9.30" fill="#ff00ff"/>

<rect x="778.78" y="696.25" width="9.30" height="9.30" fill="#ff00ff"/>

<rect x="818.81" y="696.25" width="9.30" height="9.30" fill="#ff00ff"/>
<path d="M137.8 273.5H148.0M137.8 276.5H148.0M142.9 273.5V276.5" stroke="#ff7f50" stroke-width="1.3" fill="none"/>
<rect x="138.55" y="270.65" width="8.70" height="8.70" fill="none" stroke="#ff7f50" stroke-width="1.3"/>
<path d="M177.8 306.5H188.0M177.8 309.5H188.0M182.9 306.5V309.5" stroke="#ff7f50" stroke-width="1.3" fill="none"/>
<rect x="178.58" y="303.65" width="8.70" height="8.70" fill="none" stroke="#ff7f50" stroke-width="1.3"/>
<path d="M217.9 342.7H228.1M217.9 345.7H228.1M223.0 342.7V345.7" stroke="#ff7f50" stroke-width="1.3" fill="none"/>
<rect x="218.62" y="339.85" width="8.70" height="8.70" fill="none" stroke="#ff7f50" stroke-width="1.3"/>
<path d="M257.9 357.8H268.1M257.9 360.8H268.1M263.0 357.8V360.8" stroke="#ff7f50" stroke-width="1.3" fill="none"/>
<rect x="258.65" y="354.95" width="8.70" height="8.70" fill="none" stroke="#ff7f50" stroke-width="1.3"/>
<path d="M297.9 356.5H308.1M297.9 359.5H308.1M303.0 356.5V359.5" stroke="#ff7f50" stroke-width="1.3" fill="none"/>
<rect x="298.68" y="353.65" width="8.70" height="8.70" fill="none" stroke="#ff7f50" stroke-width="1.3"/>
<path d="M338.0 358.8H348.2M338.0 361.8H348.2M343.1 358.8V361.8" stroke="#ff7f50" stroke-width="1.3" fill="none"/>
<rect x="338.72" y="355.95" width="8.70" height="8.70" fill="none" stroke="#ff7f50" stroke-width="1.3"/>
<path d="M378.0 390.7H388.2M378.0 393.7H388.2M383.1 390.7V393.7" stroke="#ff7f50" stroke-width="1.3" fill="none"/>
<rect x="378.75" y="387.85" width="8.70" height="8.70" fill="none" stroke="#ff7f50" stroke-width="1.3"/>
<path d="M418.0 394.4H428.2M418.0 397.4H428.2M423.1 394.4V397.4" stroke="#ff7f50" stroke-width="1.3" fill="none"/>
<rect x="418.78" y="391.55" width="8.70" height="8.70" fill="none" stroke="#ff7f50" stroke-width="1.3"/>
<path d="M458.1 423.3H468.3M458.1 426.3H468.3M463.2 423.3V426.3" stroke="#ff7f50" stroke-width="1.3" fill="none"/>
<rect x="458.81" y="420.45" width="8.70" height="8.70" fill="none" stroke="#ff7f50" stroke-width="1.3"/>
<path d="M498.1 415.1H508.3M498.1 418.1H508.3M503.2 415.1V418.1" stroke="#ff7f50" stroke-width="1.3" fill="none"/>
<rect x="498.85" y="412.25" width="8.70" height="8.70" fill="none" stroke="#ff7f50" stroke-width="1.3"/>
<path d="M538.1 413.5H548.3M538.1 416.5H548.3M543.2 413.5V416.5" stroke="#ff7f50" stroke-width="1.3" fill="none"/>
<rect x="538.88" y="410.65" width="8.70" height="8.70" fill="none" stroke="#ff7f50" stroke-width="1.3"/>
<path d="M578.2 454.2H588.4M578.2 459.4H588.4M583.3 454.2V459.4" stroke="#ff7f50" stroke-width="1.3" fill="none"/>
<rect x="578.91" y="452.45" width="8.70" height="8.70" fill="none" stroke="#ff7f50" stroke-width="1.3"/>
<path d="M618.2 443.3H628.4M618.2 447.7H628.4M623.3 443.3V447.7" stroke="#ff7f50" stroke-width="1.3" fill="none"/>
<rect x="618.95" y="441.15" width="8.70" height="8.70" fill="none" stroke="#ff7f50" stroke-width="1.3"/>
<path d="M658.2 478.5H668.4M658.2 483.7H668.4M663.3 478.5V483.7" stroke="#ff7f50" stroke-width="1.3" fill="none"/>
<rect x="658.98" y="476.75" width="8.70" height="8.70" fill="none" stroke="#ff7f50" stroke-width="1.3"/>
<path d="M698.3 564.9H708.5M698.3 573.7H708.5M703.4 564.9V573.7" stroke="#ff7f50" stroke-width="1.3" fill="none"/>
<rect x="699.01" y="564.95" width="8.70" height="8.70" fill="none" stroke="#ff7f50" stroke-width="1.3"/>
<path d="M738.3 659.5H748.5M738.3 668.7H748.5M743.4 659.5V668.7" stroke="#ff7f50" stroke-width="1.3" fill="none"/>
<rect x="739.04" y="659.75" width="8.70" height="8.70" fill="none" stroke="#ff7f50" stroke-width="1.3"/>
<path d="M778.3 687.0H788.5M778.3 693.0H788.5M783.4 687.0V693.0" stroke="#ff7f50" stroke-width="1.3" fill="none"/>
<rect x="779.08" y="685.65" width="8.70" height="8.70" fill="none" stroke="#ff7f50" stroke-width="1.3"/>

<rect x="819.11" y="695.65" width="8.70" height="8.70" fill="none" stroke="#ff7f50" stroke-width="1.3"/>

<rect x="859.14" y="696.55" width="8.70" height="8.70" fill="none" stroke="#ff7f50" stroke-width="1.3"/>

<rect x="899.18" y="696.55" width="8.70" height="8.70" fill="none" stroke="#ff7f50" stroke-width="1.3"/>

<rect x="939.21" y="696.55" width="8.70" height="8.70" fill="none" stroke="#ff7f50" stroke-width="1.3"/>

<rect x="979.24" y="696.55" width="8.70" height="8.70" fill="none" stroke="#ff7f50" stroke-width="1.3"/>

<rect x="1019.28" y="696.55" width="8.70" height="8.70" fill="none" stroke="#ff7f50" stroke-width="1.3"/>

<rect x="1059.31" y="696.55" width="8.70" height="8.70" fill="none" stroke="#ff7f50" stroke-width="1.3"/>

<rect x="1099.34" y="696.55" width="8.70" height="8.70" fill="none" stroke="#ff7f50" stroke-width="1.3"/>
<path d="M137.8 260.4H148.0M137.8 263.0H148.0M142.9 260.4V263.0" stroke="#ff7f50" stroke-width="1.3" fill="none"/>
<circle cx="142.9" cy="261.7" r="4.65" fill="#ff7f50"/>
<path d="M177.8 301.3H188.0M177.8 303.9H188.0M182.9 301.3V303.9" stroke="#ff7f50" stroke-width="1.3" fill="none"/>
<circle cx="182.9" cy="302.6" r="4.65" fill="#ff7f50"/>
<path d="M217.9 324.5H228.1M217.9 327.1H228.1M223.0 324.5V327.1" stroke="#ff7f50" stroke-width="1.3" fill="none"/>
<circle cx="223.0" cy="325.8" r="4.65" fill="#ff7f50"/>
<path d="M257.9 351.3H268.1M257.9 353.9H268.1M263.0 351.3V353.9" stroke="#ff7f50" stroke-width="1.3" fill="none"/>
<circle cx="263.0" cy="352.6" r="4.65" fill="#ff7f50"/>
<path d="M297.9 377.5H308.1M297.9 380.1H308.1M303.0 377.5V380.1" stroke="#ff7f50" stroke-width="1.3" fill="none"/>
<circle cx="303.0" cy="378.8" r="4.65" fill="#ff7f50"/>
<path d="M338.0 369.8H348.2M338.0 372.4H348.2M343.1 369.8V372.4" stroke="#ff7f50" stroke-width="1.3" fill="none"/>
<circle cx="343.1" cy="371.1" r="4.65" fill="#ff7f50"/>
<path d="M378.0 362.9H388.2M378.0 365.5H388.2M383.1 362.9V365.5" stroke="#ff7f50" stroke-width="1.3" fill="none"/>
<circle cx="383.1" cy="364.2" r="4.65" fill="#ff7f50"/>
<path d="M418.0 376.8H428.2M418.0 379.4H428.2M423.1 376.8V379.4" stroke="#ff7f50" stroke-width="1.3" fill="none"/>
<circle cx="423.1" cy="378.1" r="4.65" fill="#ff7f50"/>
<path d="M458.1 397.1H468.3M458.1 399.7H468.3M463.2 397.1V399.7" stroke="#ff7f50" stroke-width="1.3" fill="none"/>
<circle cx="463.2" cy="398.4" r="4.65" fill="#ff7f50"/>
<path d="M498.1 405.0H508.3M498.1 407.6H508.3M503.2 405.0V407.6" stroke="#ff7f50" stroke-width="1.3" fill="none"/>
<circle cx="503.2" cy="406.3" r="4.65" fill="#ff7f50"/>
<path d="M538.1 403.7H548.3M538.1 406.3H548.3M543.2 403.7V406.3" stroke="#ff7f50" stroke-width="1.3" fill="none"/>
<circle cx="543.2" cy="405.0" r="4.65" fill="#ff7f50"/>
<path d="M578.2 439.6H588.4M578.2 441.6H588.4M583.3 439.6V441.6" stroke="#ff7f50" stroke-width="1.3" fill="none"/>
<circle cx="583.3" cy="440.6" r="4.65" fill="#ff7f50"/>
<path d="M618.2 438.4H628.4M618.2 440.8H628.4M623.3 438.4V440.8" stroke="#ff7f50" stroke-width="1.3" fill="none"/>
<circle cx="623.3" cy="439.6" r="4.65" fill="#ff7f50"/>
<path d="M658.2 453.2H668.4M658.2 456.2H668.4M663.3 453.2V456.2" stroke="#ff7f50" stroke-width="1.3" fill="none"/>
<circle cx="663.3" cy="454.7" r="4.65" fill="#ff7f50"/>
<path d="M698.3 581.3H708.5M698.3 589.3H708.5M703.4 581.3V589.3" stroke="#ff7f50" stroke-width="1.3" fill="none"/>
<circle cx="703.4" cy="585.3" r="4.65" fill="#ff7f50"/>
<path d="M738.3 677.7H748.5M738.3 683.7H748.5M743.4 677.7V683.7" stroke="#ff7f50" stroke-width="1.3" fill="none"/>
<circle cx="743.4" cy="680.7" r="4.65" fill="#ff7f50"/>
<path d="M778.3 683.8H788.5M778.3 688.8H788.5M783.4 683.8V688.8" stroke="#ff7f50" stroke-width="1.3" fill="none"/>
<circle cx="783.4" cy="686.3" r="4.65" fill="#ff7f50"/>
<path d="M818.4 696.3H828.6M818.4 699.3H828.6M823.5 696.3V699.3" stroke="#ff7f50" stroke-width="1.3" fill="none"/>
<circle cx="823.5" cy="697.8" r="4.65" fill="#ff7f50"/>

<circle cx="863.5" cy="700.9" r="4.65" fill="#ff7f50"/>

<circle cx="903.5" cy="700.9" r="4.65" fill="#ff7f50"/>

<circle cx="943.6" cy="700.9" r="4.65" fill="#ff7f50"/>

<circle cx="983.6" cy="700.9" r="4.65" fill="#ff7f50"/>

<circle cx="1023.6" cy="700.9" r="4.65" fill="#ff7f50"/>

<circle cx="1063.7" cy="700.9" r="4.65" fill="#ff7f50"/>

<circle cx="1103.7" cy="700.9" r="4.65" fill="#ff7f50"/>
<path d="M137.8 276.8H148.0M137.8 279.8H148.0M142.9 276.8V279.8" stroke="#ff7f50" stroke-width="1.3" fill="none"/>
<circle cx="142.9" cy="278.3" r="4.35" fill="none" stroke="#ff7f50" stroke-width="1.3"/>
<path d="M177.8 290.7H188.0M177.8 293.7H188.0M182.9 290.7V293.7" stroke="#ff7f50" stroke-width="1.3" fill="none"/>
<circle cx="182.9" cy="292.2" r="4.35" fill="none" stroke="#ff7f50" stroke-width="1.3"/>
<path d="M217.9 328.5H228.1M217.9 331.5H228.1M223.0 328.5V331.5" stroke="#ff7f50" stroke-width="1.3" fill="none"/>
<circle cx="223.0" cy="330.0" r="4.35" fill="none" stroke="#ff7f50" stroke-width="1.3"/>
<path d="M257.9 341.5H268.1M257.9 344.5H268.1M263.0 341.5V344.5" stroke="#ff7f50" stroke-width="1.3" fill="none"/>
<circle cx="263.0" cy="343.0" r="4.35" fill="none" stroke="#ff7f50" stroke-width="1.3"/>
<path d="M297.9 341.7H308.1M297.9 344.7H308.1M303.0 341.7V344.7" stroke="#ff7f50" stroke-width="1.3" fill="none"/>
<circle cx="303.0" cy="343.2" r="4.35" fill="none" stroke="#ff7f50" stroke-width="1.3"/>
<path d="M338.0 379.3H348.2M338.0 382.3H348.2M343.1 379.3V382.3" stroke="#ff7f50" stroke-width="1.3" fill="none"/>
<circle cx="343.1" cy="380.8" r="4.35" fill="none" stroke="#ff7f50" stroke-width="1.3"/>
<path d="M378.0 361.0H388.2M378.0 364.0H388.2M383.1 361.0V364.0" stroke="#ff7f50" stroke-width="1.3" fill="none"/>
<circle cx="383.1" cy="362.5" r="4.35" fill="none" stroke="#ff7f50" stroke-width="1.3"/>
<path d="M418.0 378.5H428.2M418.0 381.5H428.2M423.1 378.5V381.5" stroke="#ff7f50" stroke-width="1.3" fill="none"/>
<circle cx="423.1" cy="380.0" r="4.35" fill="none" stroke="#ff7f50" stroke-width="1.3"/>
<path d="M458.1 385.6H468.3M458.1 388.6H468.3M463.2 385.6V388.6" stroke="#ff7f50" stroke-width="1.3" fill="none"/>
<circle cx="463.2" cy="387.1" r="4.35" fill="none" stroke="#ff7f50" stroke-width="1.3"/>
<path d="M498.1 404.5H508.3M498.1 407.5H508.3M503.2 404.5V407.5" stroke="#ff7f50" stroke-width="1.3" fill="none"/>
<circle cx="503.2" cy="406.0" r="4.35" fill="none" stroke="#ff7f50" stroke-width="1.3"/>
<path d="M538.1 419.0H548.3M538.1 422.0H548.3M543.2 419.0V422.0" stroke="#ff7f50" stroke-width="1.3" fill="none"/>
<circle cx="543.2" cy="420.5" r="4.35" fill="none" stroke="#ff7f50" stroke-width="1.3"/>
<path d="M578.2 406.5H588.4M578.2 409.5H588.4M583.3 406.5V409.5" stroke="#ff7f50" stroke-width="1.3" fill="none"/>
<circle cx="583.3" cy="408.0" r="4.35" fill="none" stroke="#ff7f50" stroke-width="1.3"/>
<path d="M618.2 439.5H628.4M618.2 442.5H628.4M623.3 439.5V442.5" stroke="#ff7f50" stroke-width="1.3" fill="none"/>
<circle cx="623.3" cy="441.0" r="4.35" fill="none" stroke="#ff7f50" stroke-width="1.3"/>
<path d="M658.2 465.6H668.4M658.2 469.6H668.4M663.3 465.6V469.6" stroke="#ff7f50" stroke-width="1.3" fill="none"/>
<circle cx="663.3" cy="467.6" r="4.35" fill="none" stroke="#ff7f50" stroke-width="1.3"/>
<path d="M698.3 568.3H708.5M698.3 575.3H708.5M703.4 568.3V575.3" stroke="#ff7f50" stroke-width="1.3" fill="none"/>
<circle cx="703.4" cy="571.8" r="4.35" fill="none" stroke="#ff7f50" stroke-width="1.3"/>
<path d="M738.3 666.9H748.5M738.3 672.7H748.5M743.4 666.9V672.7" stroke="#ff7f50" stroke-width="1.3" fill="none"/>
<circle cx="743.4" cy="669.8" r="4.35" fill="none" stroke="#ff7f50" stroke-width="1.3"/>
<path d="M778.3 687.0H788.5M778.3 693.0H788.5M783.4 687.0V693.0" stroke="#ff7f50" stroke-width="1.3" fill="none"/>
<circle cx="783.4" cy="690.0" r="4.35" fill="none" stroke="#ff7f50" stroke-width="1.3"/>

<circle cx="823.5" cy="700.0" r="4.35" fill="none" stroke="#ff7f50" stroke-width="1.3"/>

<circle cx="863.5" cy="700.9" r="4.35" fill="none" stroke="#ff7f50" stroke-width="1.3"/>

<circle cx="903.5" cy="700.9" r="4.35" fill="none" stroke="#ff7f50" stroke-width="1.3"/>

<circle cx="943.6" cy="700.9" r="4.35" fill="none" stroke="#ff7f50" stroke-width="1.3"/>

<circle cx="983.6" cy="700.9" r="4.35" fill="none" stroke="#ff7f50" stroke-width="1.3"/>

<circle cx="1023.6" cy="700.9" r="4.35" fill="none" stroke="#ff7f50" stroke-width="1.3"/>

<circle cx="1063.7" cy="700.9" r="4.35" fill="none" stroke="#ff7f50" stroke-width="1.3"/>

<circle cx="1103.7" cy="700.9" r="4.35" fill="none" stroke="#ff7f50" stroke-width="1.3"/>
<path d="M137.8 273.5H148.0M137.8 275.9H148.0M142.9 273.5V275.9" stroke="#ff7f50" stroke-width="1.3" fill="none"/>
<rect x="138.25" y="270.05" width="9.30" height="9.30" fill="#ff7f50"/>
<path d="M177.8 309.7H188.0M177.8 312.1H188.0M182.9 309.7V312.1" stroke="#ff7f50" stroke-width="1.3" fill="none"/>
<rect x="178.28" y="306.25" width="9.30" height="9.30" fill="#ff7f50"/>
<path d="M217.9 332.3H228.1M217.9 334.7H228.1M223.0 332.3V334.7" stroke="#ff7f50" stroke-width="1.3" fill="none"/>
<rect x="218.32" y="328.85" width="9.30" height="9.30" fill="#ff7f50"/>
<path d="M257.9 333.4H268.1M257.9 335.8H268.1M263.0 333.4V335.8" stroke="#ff7f50" stroke-width="1.3" fill="none"/>
<rect x="258.35" y="329.95" width="9.30" height="9.30" fill="#ff7f50"/>
<path d="M297.9 356.7H308.1M297.9 359.1H308.1M303.0 356.7V359.1" stroke="#ff7f50" stroke-width="1.3" fill="none"/>
<rect x="298.38" y="353.25" width="9.30" height="9.30" fill="#ff7f50"/>
<path d="M338.0 366.0H348.2M338.0 368.4H348.2M343.1 366.0V368.4" stroke="#ff7f50" stroke-width="1.3" fill="none"/>
<rect x="338.42" y="362.55" width="9.30" height="9.30" fill="#ff7f50"/>
<path d="M378.0 375.7H388.2M378.0 378.1H388.2M383.1 375.7V378.1" stroke="#ff7f50" stroke-width="1.3" fill="none"/>
<rect x="378.45" y="372.25" width="9.30" height="9.30" fill="#ff7f50"/>
<path d="M418.0 380.6H428.2M418.0 383.0H428.2M423.1 380.6V383.0" stroke="#ff7f50" stroke-width="1.3" fill="none"/>
<rect x="418.48" y="377.15" width="9.30" height="9.30" fill="#ff7f50"/>
<path d="M458.1 398.2H468.3M458.1 400.6H468.3M463.2 398.2V400.6" stroke="#ff7f50" stroke-width="1.3" fill="none"/>
<rect x="458.51" y="394.75" width="9.30" height="9.30" fill="#ff7f50"/>
<path d="M498.1 395.5H508.3M498.1 397.9H508.3M503.2 395.5V397.9" stroke="#ff7f50" stroke-width="1.3" fill="none"/>
<rect x="498.55" y="392.05" width="9.30" height="9.30" fill="#ff7f50"/>
<path d="M538.1 412.0H548.3M538.1 414.4H548.3M543.2 412.0V414.4" stroke="#ff7f50" stroke-width="1.3" fill="none"/>
<rect x="538.58" y="408.55" width="9.30" height="9.30" fill="#ff7f50"/>
<path d="M578.2 413.0H588.4M578.2 415.4H588.4M583.3 413.0V415.4" stroke="#ff7f50" stroke-width="1.3" fill="none"/>
<rect x="578.61" y="409.55" width="9.30" height="9.30" fill="#ff7f50"/>
<path d="M618.2 441.4H628.4M618.2 443.8H628.4M623.3 441.4V443.8" stroke="#ff7f50" stroke-width="1.3" fill="none"/>
<rect x="618.65" y="437.95" width="9.30" height="9.30" fill="#ff7f50"/>
<path d="M658.2 468.5H668.4M658.2 471.5H668.4M663.3 468.5V471.5" stroke="#ff7f50" stroke-width="1.3" fill="none"/>
<rect x="658.68" y="465.35" width="9.30" height="9.30" fill="#ff7f50"/>
<path d="M698.3 580.7H708.5M698.3 590.5H708.5M703.4 580.7V590.5" stroke="#ff7f50" stroke-width="1.3" fill="none"/>
<rect x="698.71" y="580.95" width="9.30" height="9.30" fill="#ff7f50"/>
<path d="M738.3 679.0H748.5M738.3 685.0H748.5M743.4 679.0V685.0" stroke="#ff7f50" stroke-width="1.3" fill="none"/>
<rect x="738.75" y="677.35" width="9.30" height="9.30" fill="#ff7f50"/>
<path d="M778.3 690.4H788.5M778.3 695.4H788.5M783.4 690.4V695.4" stroke="#ff7f50" stroke-width="1.3" fill="none"/>
<rect x="778.78" y="688.25" width="9.30" height="9.30" fill="#ff7f50"/>

<rect x="818.81" y="696.35" width="9.30" height="9.30" fill="#ff7f50"/>

<rect x="858.84" y="696.25" width="9.30" height="9.30" fill="#ff7f50"/>

<rect x="898.88" y="696.25" width="9.30" height="9.30" fill="#ff7f50"/>

<rect x="938.91" y="696.25" width="9.30" height="9.30" fill="#ff7f50"/>

<rect x="978.94" y="696.25" width="9.30" height="9.30" fill="#ff7f50"/>

<rect x="1018.98" y="696.25" width="9.30" height="9.30" fill="#ff7f50"/>

<rect x="1059.01" y="696.25" width="9.30" height="9.30" fill="#ff7f50"/>

<rect x="1099.04" y="696.25" width="9.30" height="9.30" fill="#ff7f50"/>
<rect x="142.9" y="12.1" width="960.792" height="688.8" fill="none" stroke="#000" stroke-width="1.9"/>
</svg>
</body></html>
